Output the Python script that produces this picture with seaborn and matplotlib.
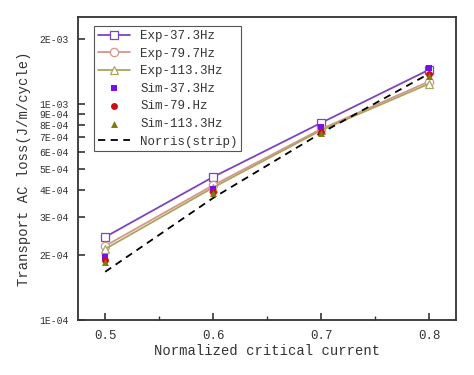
import numpy as np
import seaborn as sns
import pandas as pd
from matplotlib import pyplot as plt
from matplotlib.ticker import FixedLocator, FixedFormatter, MultipleLocator

current = [0.5, 0.6, 0.7, 0.8]

exp_37 = [2.42e-4, 4.59e-4, 8.17e-4, 1.44e-3]
exp_79 = [2.20e-4, 4.20e-4, 7.65e-4, 1.27e-3]
exp_113 = [2.13e-4, 4.10e-4, 7.55e-4, 1.24e-3]

sim_37 = [1.96e-4, 4.04e-4, 7.83e-4, 1.47e-3]
sim_79 = [1.90e-4, 3.93e-4, 7.45e-4, 1.37e-3]
sim_113 = [1.86e-4, 3.86e-4, 7.35e-4, 1.34e-3]

norris = [1.67e-4, 3.67e-4, 7.33e-4, 1.38e-3]

y_ticks = [1e-4, 2e-4, 3e-4, 4e-4, 5e-4, 6e-4, 7e-4, 8e-4, 9e-4, 1e-3, 2e-3]
x_ticks = [0.5, 0.6, 0.7, 0.8]

sns.set_style("ticks")
plt.rcParams['font.family'] = ['Liberation Mono', 'DejaVu Sans']

fig = plt.figure(figsize=(4.74, 3.75), dpi=100)
ax = fig.add_axes([0.165, 0.147, 0.797, 0.808])

expSeries = [
    ("Exp-37.3Hz", exp_37, "#7b45c0", "s"),
    ("Exp-79.7Hz", exp_79, "#d4958e", "o"),
    ("Exp-113.3Hz", exp_113, "#aca45c", "^"),
]
simSeries = [
    ("Sim-37.3Hz", sim_37, "#7a10e8", "s"),
    ("Sim-79.Hz", sim_79, "#cc1010", "o"),
    ("Sim-113.3Hz", sim_113, "#7f7a10", "^"),
]

for name, vals, col, mk in expSeries:
    df = pd.DataFrame({"x": current, "y": vals})
    sns.lineplot(data=df, x="x", y="y", ax=ax, color=col, lw=1.3,
                 marker=mk, markersize=6, markerfacecolor="white",
                 markeredgecolor=col, markeredgewidth=0.9, label=name)

for name, vals, col, mk in simSeries:
    df = pd.DataFrame({"x": current, "y": vals})
    sns.scatterplot(data=df, x="x", y="y", ax=ax, color=col, marker=mk,
                    s=25, edgecolor=col, linewidth=0, label=name, zorder=4)

dfN = pd.DataFrame({"x": current, "y": norris})
sns.lineplot(data=dfN, x="x", y="y", ax=ax, color="black", lw=1.3,
             linestyle=(0, (4, 3)), label="Norris(strip)")

ax.set_yscale("log")
ax.set_xlim(0.475, 0.825)
ax.set_ylim(1e-4, 2.53e-3)
ax.yaxis.set_major_locator(FixedLocator(y_ticks))
ax.yaxis.set_major_formatter(FixedFormatter(['{:.0E}'.format(v) for v in y_ticks]))
ax.yaxis.set_minor_locator(FixedLocator([]))
ax.xaxis.set_major_locator(FixedLocator(x_ticks))
ax.xaxis.set_major_formatter(FixedFormatter(["0.5", "0.6", "0.7", "0.8"]))
ax.xaxis.set_minor_locator(MultipleLocator(0.05))

ax.tick_params(axis="both", which="major", direction="in", length=5, width=1.2,
               colors="#333333", pad=7)
ax.tick_params(axis="y", which="major", labelsize=7)
ax.tick_params(axis="x", which="major", labelsize=9)
ax.tick_params(axis="x", which="minor", direction="in", length=3, width=1.0, colors="#333333")
for sp in ax.spines.values():
    sp.set_linewidth(1.3)
    sp.set_color("#333333")

ax.set_xlabel("Normalized critical current", fontsize=10, color="#333333", labelpad=2)
ax.set_ylabel("Transport AC loss(J/m/cycle)", fontsize=10, color="#333333", labelpad=6)

leg = ax.legend(loc="upper left", bbox_to_anchor=(0.025, 0.99), fontsize=9,
                handlelength=2.6, labelspacing=0.45, borderpad=0.3,
                fancybox=False, framealpha=1, edgecolor="#555555")
leg.get_frame().set_linewidth(0.8)
for t in leg.get_texts():
    t.set_color("#333333")

plt.savefig("out.png", dpi=100)
